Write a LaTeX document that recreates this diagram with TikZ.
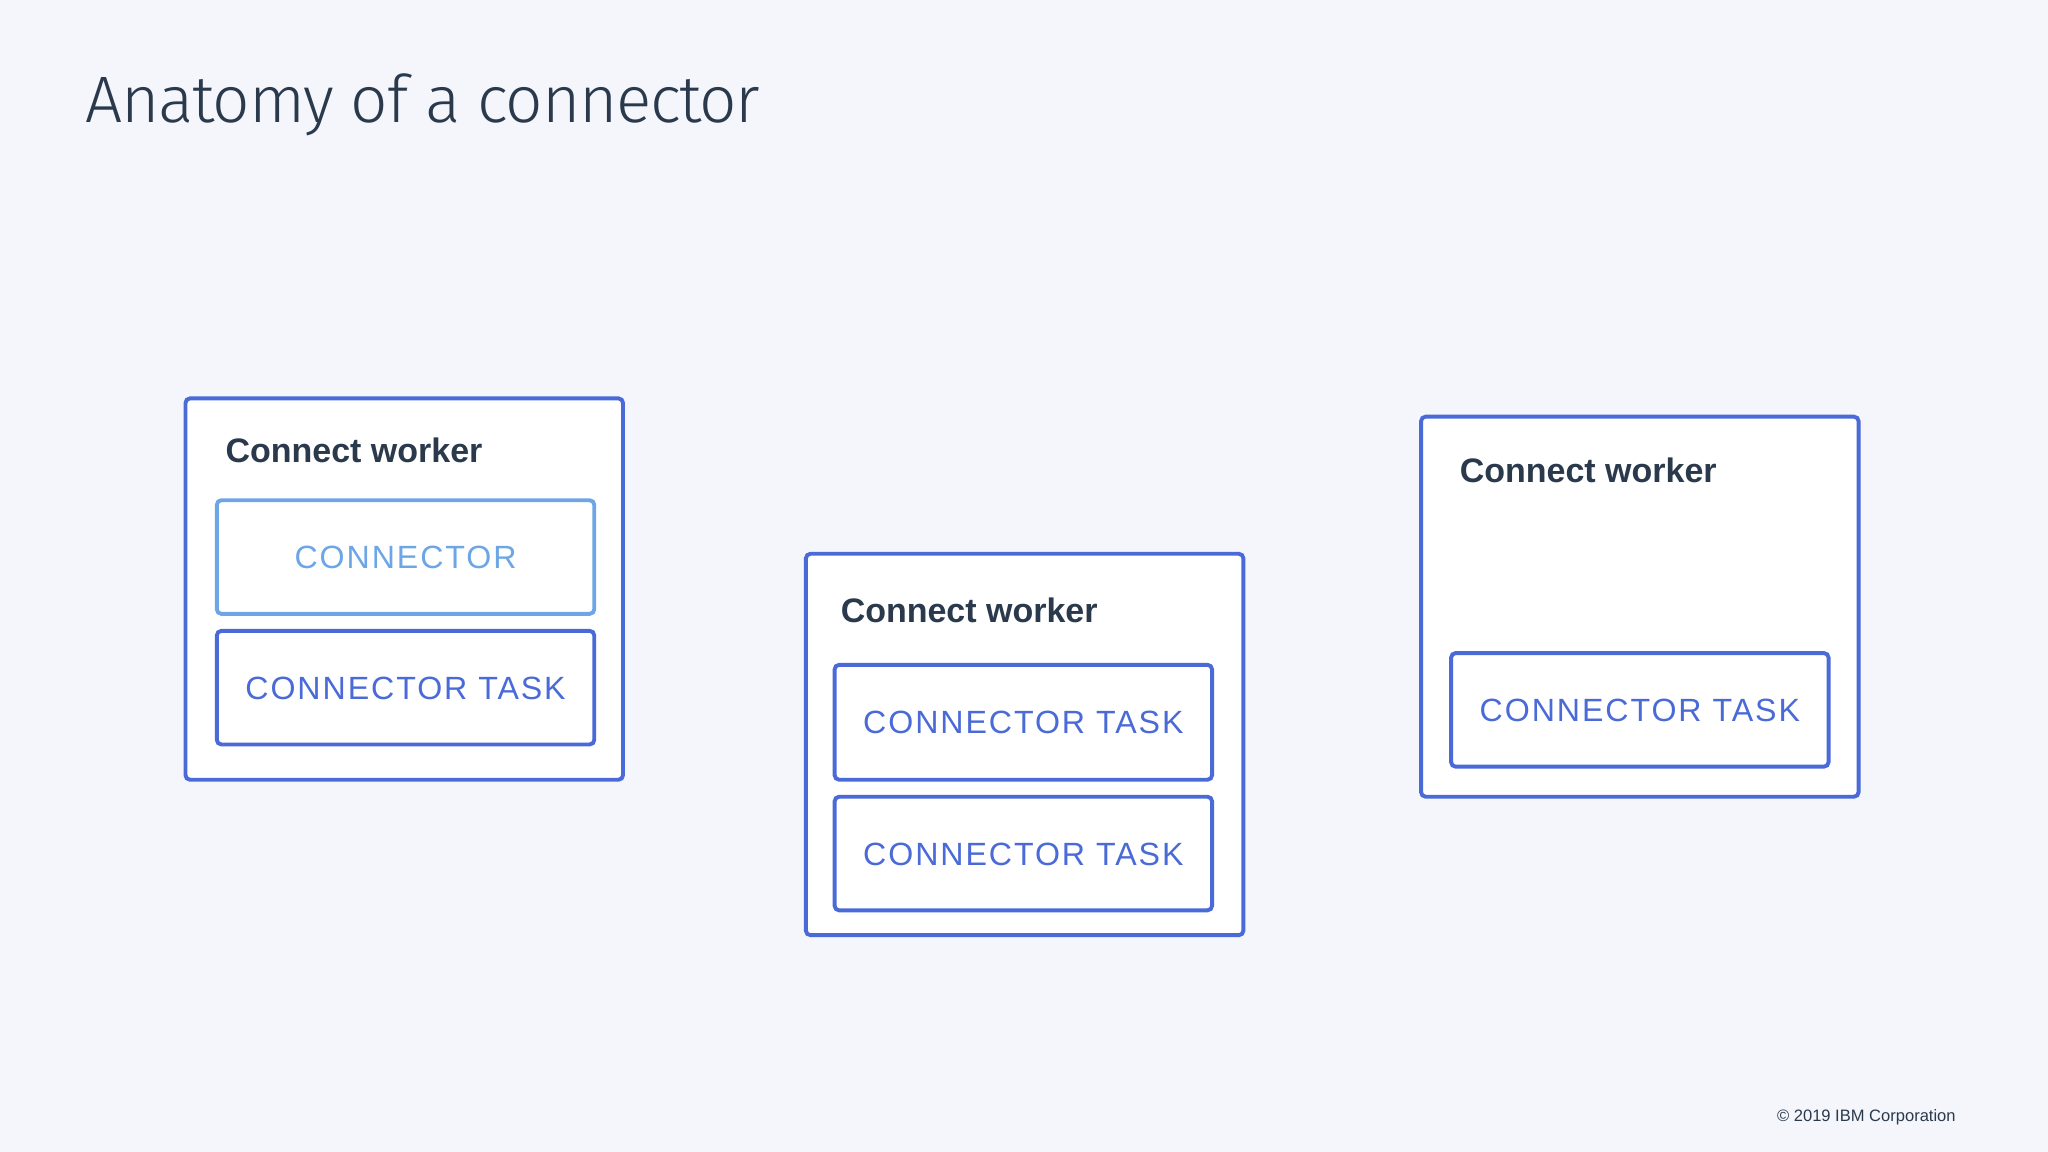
\documentclass[tikz,border=0pt]{standalone}
\usepackage{fontspec}
\setmainfont{Liberation Sans}
\newfontfamily\titlefont[LetterSpace=-2]{Fira Sans Light}
\newfontfamily\spaced[LetterSpace=6]{Liberation Sans}
\definecolor{bg}{HTML}{F4F6FC}
\definecolor{blu}{HTML}{4A6AD8}
\definecolor{lblu}{HTML}{6CA6E6}
\definecolor{ink}{HTML}{2A3A4C}
\tikzset{
 worker/.style={draw=blu,line width=0.85pt,fill=white,rounded corners=1pt},
 task/.style={draw=blu,line width=0.85pt,rounded corners=1pt},
 ctor/.style={draw=lblu,line width=0.85pt,rounded corners=1pt},
 lbl/.style={anchor=west,font=\bfseries\fontsize{7.4}{9}\selectfont,text=ink},
 ttxt/.style={font=\spaced\fontsize{7}{9}\selectfont,text=blu},
}
\begin{document}
\begin{tikzpicture}[x=0.01cm,y=-0.01cm]
\fill[bg] (0,0) rectangle (1568,882);
\useasboundingbox (0,0) rectangle (1568,882);
\node[anchor=west,inner sep=0,font=\titlefont\fontsize{14.3}{17}\selectfont,text=ink] (title) at (65,80) {Anatomy of a connector};
% worker 1
\draw[worker] (142,305) rectangle (477,597);
\node[lbl,inner sep=0] (l1) at (172,345) {Connect worker};
\draw[ctor] (166,383) rectangle (455,470);
\node[font=\spaced\fontsize{7}{9}\selectfont,text=lblu] (c1) at (310.5,427) {CONNECTOR};
\draw[task] (166,483) rectangle (455,570);
\node[ttxt] (t1) at (310.5,527) {CONNECTOR TASK};
% worker 2
\draw[worker] (617,424) rectangle (952,716);
\node[lbl,inner sep=0] (l2) at (643,467) {Connect worker};
\draw[task] (639,509) rectangle (928,597);
\node[ttxt] (t2) at (783.5,553) {CONNECTOR TASK};
\draw[task] (639,610) rectangle (928,697);
\node[ttxt] (t3) at (783.5,654) {CONNECTOR TASK};
% worker 3
\draw[worker] (1088,319) rectangle (1423,610);
\node[lbl,inner sep=0] (l3) at (1117,360) {Connect worker};
\draw[task] (1111,500) rectangle (1400,587);
\node[ttxt] (t4) at (1255.5,544) {CONNECTOR TASK};
\node[anchor=east,inner sep=0,font=\fontsize{3.6}{4}\selectfont,text=ink] (copy) at (1498,855) {© 2019 IBM Corporation};
\end{tikzpicture}
\end{document}
